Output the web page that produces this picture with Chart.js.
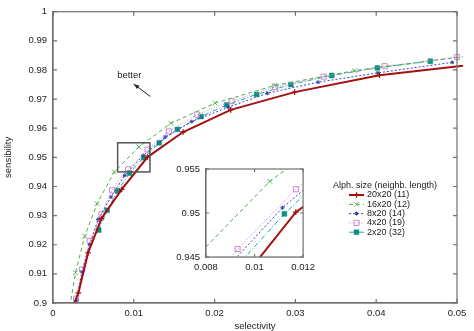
<!DOCTYPE html>
<html>
<head>
<meta charset="utf-8">
<script src="https://cdn.jsdelivr.net/npm/chart.js@4.4.0/dist/chart.umd.min.js"></script>
<style>
  body { margin: 0; background: #fff; }
  #wrap { position: relative; width: 474px; height: 331px; }
  #main { position: absolute; left: 0; top: 0; }
  #zoom { position: absolute; left: 160px; top: 155px; }
</style>
</head>
<body>
<div id="wrap">
  <canvas id="main" width="474" height="331"></canvas>
  <canvas id="zoom" width="160" height="125"></canvas>
</div>
<script>
// ticks
const xTicks = [0, 0.01, 0.02, 0.03, 0.04, 0.05];
const yTicks = [0.9, 0.91, 0.92, 0.93, 0.94, 0.95, 0.96, 0.97, 0.98, 0.99, 1];
const zoomXTicks = [0.008, 0.01, 0.012];
const zoomYTicks = [0.945, 0.95, 0.955];

const legendTitle = "Alph. size (neighb. length)";
const seriesNames = ["20x20 (11)", "16x20 (12)", "8x20 (14)", "4x20 (19)", "2x20 (32)"];

// selectivity (x) / sensibility (y) per alphabet size
const sel20x20 = [0.0022, 0.00315, 0.00434, 0.006, 0.0085, 0.0117, 0.0161, 0.022, 0.0299, 0.0404, 0.0545];
const sens20x20 = [0.8968, 0.9035, 0.9172, 0.929, 0.939, 0.9501, 0.9587, 0.9663, 0.9724, 0.9782, 0.9826];

const sel16x20 = [0.0018, 0.00278, 0.00393, 0.00545, 0.00759, 0.01063, 0.0146, 0.02006, 0.02747, 0.03735, 0.0515];
const sens16x20 = [0.894, 0.9104, 0.9229, 0.9341, 0.945, 0.9536, 0.9617, 0.9686, 0.9747, 0.9798, 0.9848];

const sel8x20 = [0.0029, 0.0036, 0.00455, 0.00558, 0.00718, 0.00887, 0.01115, 0.0139, 0.01718, 0.0217, 0.02652, 0.0328, 0.0402, 0.0494];
const sens8x20 = [0.901, 0.9107, 0.9201, 0.9287, 0.9364, 0.9438, 0.9506, 0.957, 0.9623, 0.9672, 0.972, 0.9758, 0.979, 0.9826];

const sel4x20 = [0.00286, 0.0036, 0.00455, 0.006, 0.0073, 0.0093, 0.0117, 0.01434, 0.0178, 0.0221, 0.02747, 0.0335, 0.04105, 0.05];
const sens4x20 = [0.9015, 0.9115, 0.9213, 0.9304, 0.9387, 0.9459, 0.9527, 0.9589, 0.9647, 0.9693, 0.9741, 0.9777, 0.9813, 0.9844];

const sel2x20 = [0.00566, 0.0067, 0.008, 0.00948, 0.01123, 0.01315, 0.0154, 0.01833, 0.0215, 0.0252, 0.02944, 0.0345, 0.04015, 0.0467];
const sens2x20 = [0.925, 0.9318, 0.9385, 0.9446, 0.9499, 0.955, 0.9596, 0.964, 0.968, 0.9716, 0.975, 0.9781, 0.9807, 0.983];

// zoomed region and the "better" hint, in data units
const zoomBox = { x0: 0.008, x1: 0.012, y0: 0.945, y1: 0.955 };
const betterText = { x: 0.00944, y: 0.9781 };
const betterArrow = { x0: 0.01204, y0: 0.9709, x1: 0.00998, y1: 0.9752 };

const FONT = '"Liberation Sans", Arial, Helvetica, sans-serif';
Chart.defaults.font.family = FONT;
Chart.defaults.font.size = 9.5;
Chart.defaults.color = "#222";

function pts(xs, ys) {
  return xs.map((x, i) => ({ x: x, y: ys[i] }));
}

function makeDatasets() {
  return [
    { label: seriesNames[0], data: pts(sel20x20, sens20x20), borderColor: "#a51010", backgroundColor: "#a51010",
      borderWidth: 2, pointStyle: "cross", pointRadius: 2.8, pointBorderWidth: 1.3 },
    { label: seriesNames[1], data: pts(sel16x20, sens16x20), borderColor: "#4cb04c", backgroundColor: "#4cb04c",
      borderWidth: 1, borderDash: [4, 3], pointStyle: "crossRot", pointRadius: 3.4, pointBorderWidth: 0.9 },
    { label: seriesNames[2], data: pts(sel8x20, sens8x20), borderColor: "#3545b5", backgroundColor: "#3545b5",
      borderWidth: 1, borderDash: [2, 2], pointStyle: "star", pointRadius: 2, pointBorderWidth: 1 },
    { label: seriesNames[3], data: pts(sel4x20, sens4x20), borderColor: "#cc88cc", backgroundColor: "rgba(0,0,0,0)",
      borderWidth: 1, borderDash: [1, 1.5], pointStyle: "rect", pointRadius: 3.6, pointBorderWidth: 1 },
    { label: seriesNames[4], data: pts(sel2x20, sens2x20), borderColor: "#26a8b2", backgroundColor: "#0a8f80",
      pointBorderColor: "#0a8f80", borderWidth: 1, borderDash: [5, 2, 1, 2], pointStyle: "rect", pointRadius: 3.4,
      pointBorderWidth: 0.5 }
  ].map(d => Object.assign(d, { showLine: true, tension: 0, fill: false,
    clip: { left: 0, top: 0, right: 6, bottom: 0 } }));
}

// box around the plot area + gnuplot-like inward ticks on all sides
function drawFrame(chart, tickLen) {
  const ctx = chart.ctx, a = chart.chartArea;
  const xs = chart.scales.x, ys = chart.scales.y;
  ctx.save();
  ctx.strokeStyle = "#707070";
  ctx.lineWidth = 1.2;
  ctx.strokeRect(a.left, a.top, a.right - a.left, a.bottom - a.top);
  ctx.beginPath();
  xs.ticks.forEach(t => {
    const px = xs.getPixelForValue(t.value);
    ctx.moveTo(px, a.bottom); ctx.lineTo(px, a.bottom - tickLen);
    ctx.moveTo(px, a.top); ctx.lineTo(px, a.top + tickLen);
  });
  ys.ticks.forEach(t => {
    const py = ys.getPixelForValue(t.value);
    ctx.moveTo(a.left, py); ctx.lineTo(a.left + tickLen, py);
    ctx.moveTo(a.right, py); ctx.lineTo(a.right - tickLen, py);
  });
  ctx.stroke();
  ctx.restore();
}

function drawMarker(ctx, ds, x, y) {
  const opts = { pointStyle: ds.pointStyle, radius: ds.pointRadius, rotation: 0, borderWidth: ds.pointBorderWidth };
  ctx.save();
  ctx.setLineDash([]);
  ctx.strokeStyle = ds.pointBorderColor || ds.borderColor;
  ctx.fillStyle = ds.backgroundColor;
  ctx.lineWidth = ds.pointBorderWidth;
  Chart.helpers.drawPoint(ctx, opts, x, y);
  ctx.restore();
}

const mainDecor = {
  id: "mainDecor",
  afterDraw(chart) {
    const ctx = chart.ctx, a = chart.chartArea;
    const xs = chart.scales.x, ys = chart.scales.y;
    drawFrame(chart, 4);

    ctx.save();
    // zoom rectangle
    ctx.strokeStyle = "#555";
    ctx.lineWidth = 1.5;
    const rx0 = xs.getPixelForValue(zoomBox.x0), rx1 = xs.getPixelForValue(zoomBox.x1);
    const ry0 = ys.getPixelForValue(zoomBox.y1), ry1 = ys.getPixelForValue(zoomBox.y0);
    ctx.strokeRect(rx0, ry0, rx1 - rx0, ry1 - ry0);

    // "better" label and arrow
    ctx.fillStyle = "#222";
    ctx.font = "9.5px " + FONT;
    ctx.textAlign = "center";
    ctx.textBaseline = "middle";
    ctx.fillText("better", xs.getPixelForValue(betterText.x), ys.getPixelForValue(betterText.y));
    const ax0 = xs.getPixelForValue(betterArrow.x0), ay0 = ys.getPixelForValue(betterArrow.y0);
    const ax1 = xs.getPixelForValue(betterArrow.x1), ay1 = ys.getPixelForValue(betterArrow.y1);
    ctx.strokeStyle = "#222";
    ctx.lineWidth = 1;
    ctx.beginPath(); ctx.moveTo(ax0, ay0); ctx.lineTo(ax1, ay1); ctx.stroke();
    const ang = Math.atan2(ay1 - ay0, ax1 - ax0);
    ctx.beginPath();
    ctx.moveTo(ax1, ay1);
    ctx.lineTo(ax1 - 6 * Math.cos(ang - 0.35), ay1 - 6 * Math.sin(ang - 0.35));
    ctx.lineTo(ax1 - 6 * Math.cos(ang + 0.35), ay1 - 6 * Math.sin(ang + 0.35));
    ctx.closePath();
    ctx.fillStyle = "#222";
    ctx.fill();

    // axis titles
    ctx.fillStyle = "#222";
    ctx.font = "9.5px " + FONT;
    ctx.textAlign = "center";
    ctx.fillText("selectivity", (a.left + a.right) / 2, 326);
    ctx.save();
    ctx.translate(8, (a.top + a.bottom) / 2);
    ctx.rotate(-Math.PI / 2);
    ctx.fillText("sensibility", 0, 0);
    ctx.restore();

    // legend
    ctx.font = "9px " + FONT;
    ctx.textAlign = "right";
    ctx.fillText(legendTitle, 437, 186);
    chart.data.datasets.forEach((ds, i) => {
      const y = 195 + i * 9.3;
      ctx.save();
      ctx.strokeStyle = ds.borderColor;
      ctx.lineWidth = ds.borderWidth;
      ctx.setLineDash(ds.borderDash || []);
      ctx.beginPath(); ctx.moveTo(349, y); ctx.lineTo(364, y); ctx.stroke();
      ctx.restore();
      drawMarker(ctx, ds, 356.5, y);
      ctx.fillStyle = "#222";
      ctx.textAlign = "left";
      ctx.fillText(ds.label, 367, y);
    });
    ctx.restore();
  }
};

function axis(min, max, ticks, size, isX, pad) {
  return {
    type: "linear", min: min, max: max,
    grid: { display: false, drawTicks: false },
    border: { display: true, color: "#707070", width: 1.2 },
    afterBuildTicks: s => { s.ticks = ticks.map(v => ({ value: v })); },
    afterFit: s => { if (isX) s.height = size; else s.width = size; },
    ticks: { padding: pad, maxRotation: 0, autoSkip: false, callback: v => String(v) }
  };
}

new Chart(document.getElementById("main"), {
  type: "scatter",
  data: { datasets: makeDatasets() },
  options: {
    responsive: false, animation: false, devicePixelRatio: 1,
    layout: { padding: { top: 11, right: 17, left: 0, bottom: 0 } },
    plugins: { legend: { display: false }, tooltip: { enabled: false } },
    scales: {
      x: axis(0, 0.05, xTicks, 28, true, 5),
      y: axis(0.9, 1, yTicks, 53, false, 6)
    }
  },
  plugins: [mainDecor]
});

// enlarged view of the boxed region
const zoomDecor = {
  id: "zoomDecor",
  beforeDatasetsDraw(chart) {
    const ctx = chart.ctx, a = chart.chartArea;
    ctx.save();
    ctx.fillStyle = "#fff";
    ctx.fillRect(a.left, a.top, a.right - a.left, a.bottom - a.top);
    ctx.restore();
  },
  afterDraw(chart) { drawFrame(chart, 3); }
};

const zoomSets = makeDatasets().map(d => Object.assign(d, { clip: 0 }));
new Chart(document.getElementById("zoom"), {
  type: "scatter",
  data: { datasets: zoomSets },
  options: {
    responsive: false, animation: false, devicePixelRatio: 1,
    layout: { padding: { top: 14, right: 13, left: 0, bottom: 0 } },
    plugins: { legend: { display: false }, tooltip: { enabled: false } },
    scales: {
      x: axis(0.008, 0.012, zoomXTicks, 23, true, 5),
      y: axis(0.945, 0.955, zoomYTicks, 46, false, 6)
    }
  },
  plugins: [zoomDecor]
});
</script>
</body>
</html>
